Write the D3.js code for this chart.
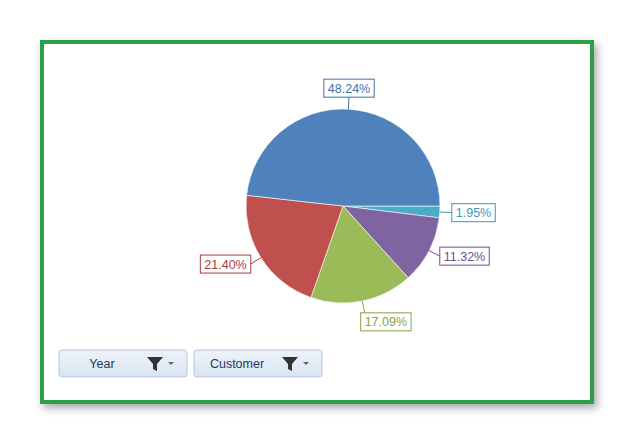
<!DOCTYPE html>
<html><head><meta charset="utf-8">
<script src="https://cdn.jsdelivr.net/npm/d3@7"></script>
<style>body{margin:0;background:#fff}</style></head>
<body><svg id="c" width="635" height="445"></svg>
<script>
const labels = ["1.95%","11.32%","17.09%","21.40%","48.24%"];
const values = [1.95,11.32,17.09,21.40,48.24];
const colors = ["#4bacc6","#8064a2","#9bbb59","#c0504d","#4f81bd"];
const strokeColors = ["#3a9ab3","#6d5290","#85a642","#a63e3b","#3f6fa8"];
const filters = ["Year","Customer"];
const FONT="'Liberation Sans', Arial, sans-serif";

const svg = d3.select("#c");
const defs = svg.append("defs");
const f = defs.append("filter").attr("id","sh").attr("x","-5%").attr("y","-5%").attr("width","112%").attr("height","115%");
f.append("feDropShadow").attr("dx",3).attr("dy",4).attr("stdDeviation",4).attr("flood-color","#000").attr("flood-opacity",0.35);
svg.append("rect").attr("x",42).attr("y",42).attr("width",550).attr("height",360).attr("fill","#fff").attr("stroke","#2e9e48").attr("stroke-width",4).attr("filter","url(#sh)");

const cx=343, cy=206, r=97;
const pie = d3.pie().sort(null).value(d=>d).startAngle(Math.PI/2).endAngle(Math.PI/2+2*Math.PI);
const arcs = pie(values);
const arc = d3.arc().innerRadius(0).outerRadius(r);
const g = svg.append("g").attr("transform",`translate(${cx},${cy})`);
g.selectAll("path").data(arcs).join("path").attr("d",arc).attr("fill",(d,i)=>colors[i]).attr("stroke","#fff").attr("stroke-width",0.6);

arcs.forEach((d,i)=>{
  const a=(d.startAngle+d.endAngle)/2;
  const sx=Math.sin(a), sy=-Math.cos(a);
  const p0=[sx*r, sy*r], p1=[sx*(r+12), sy*(r+12)];
  g.append("line").attr("x1",p0[0]).attr("y1",p0[1]).attr("x2",p1[0]).attr("y2",p1[1]).attr("stroke",strokeColors[i]);
  const t=g.append("text").text(labels[i]).attr("font-family",FONT).attr("font-size",12.5).attr("fill",strokeColors[i]);
  const w=t.node().getComputedTextLength()+8, h=18;
  let bx,by;
  if (Math.abs(sx)<0.35){ bx= sy<0 ? p1[0]-w/2 : p1[0]-4; by= sy<0 ? p1[1]-h : p1[1]; }
  else { bx = sx>0 ? p1[0] : p1[0]-w; by=p1[1]-h/2; }
  g.insert("rect","text").attr("x",bx).attr("y",by).attr("width",w).attr("height",h).attr("fill","#fff").attr("stroke",strokeColors[i]);
  t.attr("x",bx+4).attr("y",by+13.5);
});

const bg = defs.append("linearGradient").attr("id","bg").attr("x1",0).attr("y1",0).attr("x2",0).attr("y2",1);
bg.append("stop").attr("offset",0).attr("stop-color","#eef3fa");
bg.append("stop").attr("offset",1).attr("stop-color","#d9e4f2");
const bxs=[{x:59,w:128},{x:194,w:128}];
filters.forEach((name,i)=>{
  const b=svg.append("g").attr("transform",`translate(${bxs[i].x},350)`);
  b.append("rect").attr("width",bxs[i].w).attr("height",27).attr("rx",3).attr("fill","url(#bg)").attr("stroke","#b4c6de");
  b.append("text").text(name).attr("x",43).attr("y",18).attr("text-anchor","middle").attr("font-family",FONT).attr("font-size",12.5).attr("fill","#1e395b");
  b.append("path").attr("d","M88,7 h16 l-6,7 v7 l-4,-2 v-5 z").attr("fill","#333");
  b.append("path").attr("d","M109,12 h6 l-3,3 z").attr("fill","#666");
});
</script></body></html>
